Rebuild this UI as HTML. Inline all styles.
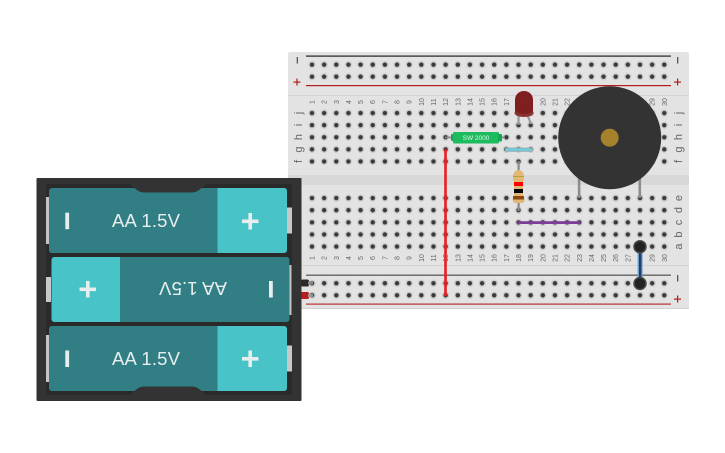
<!DOCTYPE html>
<html><head><meta charset="utf-8"><style>
html,body{margin:0;padding:0;background:#fff}
svg{display:block}
.n text{font:7px "Liberation Sans",sans-serif;fill:#666;text-anchor:middle}
.l text{font:11px "Liberation Sans",sans-serif;fill:#666;text-anchor:middle}
</style></head><body>
<svg width="725" height="453" viewBox="0 0 725 453" xmlns="http://www.w3.org/2000/svg">
<defs>
<pattern id="p" x="305.93" y="0" width="12.148" height="12.148" patternUnits="userSpaceOnUse">
<circle cx="6.07" cy="6.07" r="3.6" fill="#cbcbcb"/><circle cx="6.07" cy="6.07" r="2.2" fill="#3a3a3a"/>
</pattern>
</defs>
<!-- board -->
<rect x="288" y="52" width="401" height="257" rx="2" fill="#e3e3e3"/>
<rect x="288" y="95" width="401" height="1" fill="#d2d2d2"/>
<rect x="288" y="265" width="401" height="1" fill="#d2d2d2"/>
<rect x="288" y="175" width="401" height="10" fill="#d8d8d8"/>
<rect x="288" y="308" width="401" height="1" fill="#d2d2d2"/>
<rect x="306" y="55.5" width="365" height="1.2" fill="#222"/>
<rect x="306" y="85" width="365" height="1.2" fill="#b71c1c"/>
<rect x="306" y="274.5" width="365" height="1.4" fill="#666"/>
<rect x="306" y="303.5" width="365" height="1.2" fill="#b83232"/>
<!-- holes -->
<g transform="translate(0,58.6)"><rect x="305.93" width="364.44" height="12.148" fill="url(#p)"/></g>
<g transform="translate(0,70.6)"><rect x="305.93" width="364.44" height="12.148" fill="url(#p)"/></g>
<g transform="translate(0,107)"><rect x="305.93" width="364.44" height="12.148" fill="url(#p)"/></g>
<g transform="translate(0,119.1)"><rect x="305.93" width="364.44" height="12.148" fill="url(#p)"/></g>
<g transform="translate(0,131.2)"><rect x="305.93" width="364.44" height="12.148" fill="url(#p)"/></g>
<g transform="translate(0,143.3)"><rect x="305.93" width="364.44" height="12.148" fill="url(#p)"/></g>
<g transform="translate(0,155.4)"><rect x="305.93" width="364.44" height="12.148" fill="url(#p)"/></g>
<g transform="translate(0,192)"><rect x="305.93" width="364.44" height="12.148" fill="url(#p)"/></g>
<g transform="translate(0,204.1)"><rect x="305.93" width="364.44" height="12.148" fill="url(#p)"/></g>
<g transform="translate(0,216.3)"><rect x="305.93" width="364.44" height="12.148" fill="url(#p)"/></g>
<g transform="translate(0,228.4)"><rect x="305.93" width="364.44" height="12.148" fill="url(#p)"/></g>
<g transform="translate(0,240.5)"><rect x="305.93" width="364.44" height="12.148" fill="url(#p)"/></g>
<g transform="translate(0,277.2)"><rect x="305.93" width="364.44" height="12.148" fill="url(#p)"/></g>
<g transform="translate(0,289.2)"><rect x="305.93" width="364.44" height="12.148" fill="url(#p)"/></g>
<!-- top numbers -->
<g class="n">
<text transform="translate(314.5,102) rotate(-90)">1</text>
<text transform="translate(326.6,102) rotate(-90)">2</text>
<text transform="translate(338.8,102) rotate(-90)">3</text>
<text transform="translate(350.9,102) rotate(-90)">4</text>
<text transform="translate(363.1,102) rotate(-90)">5</text>
<text transform="translate(375.2,102) rotate(-90)">6</text>
<text transform="translate(387.4,102) rotate(-90)">7</text>
<text transform="translate(399.5,102) rotate(-90)">8</text>
<text transform="translate(411.7,102) rotate(-90)">9</text>
<text transform="translate(423.8,102) rotate(-90)">10</text>
<text transform="translate(436,102) rotate(-90)">11</text>
<text transform="translate(448.1,102) rotate(-90)">12</text>
<text transform="translate(460.3,102) rotate(-90)">13</text>
<text transform="translate(472.4,102) rotate(-90)">14</text>
<text transform="translate(484.6,102) rotate(-90)">15</text>
<text transform="translate(496.7,102) rotate(-90)">16</text>
<text transform="translate(508.9,102) rotate(-90)">17</text>
<text transform="translate(521,102) rotate(-90)">18</text>
<text transform="translate(533.2,102) rotate(-90)">19</text>
<text transform="translate(545.3,102) rotate(-90)">20</text>
<text transform="translate(557.5,102) rotate(-90)">21</text>
<text transform="translate(569.6,102) rotate(-90)">22</text>
<text transform="translate(581.8,102) rotate(-90)">23</text>
<text transform="translate(593.9,102) rotate(-90)">24</text>
<text transform="translate(606.1,102) rotate(-90)">25</text>
<text transform="translate(618.2,102) rotate(-90)">26</text>
<text transform="translate(630.4,102) rotate(-90)">27</text>
<text transform="translate(642.5,102) rotate(-90)">28</text>
<text transform="translate(654.7,102) rotate(-90)">29</text>
<text transform="translate(666.8,102) rotate(-90)">30</text>
<!-- bottom numbers -->
<text transform="translate(314.5,258) rotate(-90)">1</text>
<text transform="translate(326.6,258) rotate(-90)">2</text>
<text transform="translate(338.8,258) rotate(-90)">3</text>
<text transform="translate(350.9,258) rotate(-90)">4</text>
<text transform="translate(363.1,258) rotate(-90)">5</text>
<text transform="translate(375.2,258) rotate(-90)">6</text>
<text transform="translate(387.4,258) rotate(-90)">7</text>
<text transform="translate(399.5,258) rotate(-90)">8</text>
<text transform="translate(411.7,258) rotate(-90)">9</text>
<text transform="translate(423.8,258) rotate(-90)">10</text>
<text transform="translate(436,258) rotate(-90)">11</text>
<text transform="translate(448.1,258) rotate(-90)">12</text>
<text transform="translate(460.3,258) rotate(-90)">13</text>
<text transform="translate(472.4,258) rotate(-90)">14</text>
<text transform="translate(484.6,258) rotate(-90)">15</text>
<text transform="translate(496.7,258) rotate(-90)">16</text>
<text transform="translate(508.9,258) rotate(-90)">17</text>
<text transform="translate(521,258) rotate(-90)">18</text>
<text transform="translate(533.2,258) rotate(-90)">19</text>
<text transform="translate(545.3,258) rotate(-90)">20</text>
<text transform="translate(557.5,258) rotate(-90)">21</text>
<text transform="translate(569.6,258) rotate(-90)">22</text>
<text transform="translate(581.8,258) rotate(-90)">23</text>
<text transform="translate(593.9,258) rotate(-90)">24</text>
<text transform="translate(606.1,258) rotate(-90)">25</text>
<text transform="translate(618.2,258) rotate(-90)">26</text>
<text transform="translate(630.4,258) rotate(-90)">27</text>
<text transform="translate(642.5,258) rotate(-90)">28</text>
<text transform="translate(654.7,258) rotate(-90)">29</text>
<text transform="translate(666.8,258) rotate(-90)">30</text>
</g>
<g class="l">
<text transform="translate(302,113) rotate(-90)">j</text>
<text transform="translate(302,125) rotate(-90)">i</text>
<text transform="translate(302,137) rotate(-90)">h</text>
<text transform="translate(302,149.5) rotate(-90)">g</text>
<text transform="translate(302,161.5) rotate(-90)">f</text>
<text transform="translate(682,113) rotate(-90)">j</text>
<text transform="translate(682,125) rotate(-90)">i</text>
<text transform="translate(682,137) rotate(-90)">h</text>
<text transform="translate(682,149.5) rotate(-90)">g</text>
<text transform="translate(682,161.5) rotate(-90)">f</text>
<text transform="translate(682,198) rotate(-90)">e</text>
<text transform="translate(682,210) rotate(-90)">d</text>
<text transform="translate(682,222.5) rotate(-90)">c</text>
<text transform="translate(682,234.5) rotate(-90)">b</text>
<text transform="translate(682,246.5) rotate(-90)">a</text>
</g>
<!-- rail signs -->
<rect x="296.7" y="57" width="1.3" height="6.5" fill="#555"/>
<rect x="293.5" y="81.5" width="7" height="1.2" fill="#b71c1c"/><rect x="296.4" y="78.5" width="1.2" height="7" fill="#b71c1c"/>
<rect x="677" y="57" width="1.3" height="6.5" fill="#555"/>
<rect x="674" y="81.5" width="7" height="1.2" fill="#b71c1c"/><rect x="677" y="78.5" width="1.2" height="7" fill="#b71c1c"/>
<rect x="677" y="275" width="1.3" height="6.5" fill="#555"/>
<rect x="674" y="298.5" width="7" height="1.2" fill="#b71c1c"/><rect x="677" y="295.5" width="1.2" height="7" fill="#b71c1c"/>
<!-- red wire -->
<rect x="444.2" y="149" width="2.6" height="147" fill="#ed1c24"/>
<!-- green component -->
<rect x="445" y="136.5" width="8" height="1.8" fill="#888"/>
<rect x="499" y="136.5" width="6" height="1.8" fill="#888"/>
<rect x="451" y="134" width="3" height="7" rx="1" fill="#17a653"/>
<rect x="453" y="132" width="46" height="11.5" rx="1.5" fill="#1cbb5d"/>
<rect x="498" y="134" width="4" height="7.5" rx="1" fill="#17a653"/>
<text x="476" y="140" text-anchor="middle" font-family="Liberation Sans,sans-serif" font-size="6.5" fill="#dff5e6">SW 2000</text>
<!-- blue component -->
<rect x="505.3" y="148" width="27" height="3.4" rx="1" fill="#6fcbdc" stroke="#99a8ad" stroke-width=".7"/>
<!-- LED -->
<path d="M518.5 114 L518.5 125" stroke="#999" stroke-width="2.2"/>
<path d="M527 114 L531 124" stroke="#999" stroke-width="2.2"/>
<path d="M515 110 V99.5 A9 8.5 0 0 1 533 99.5 V110 Z" fill="#7f1f1f"/>
<ellipse cx="524" cy="113" rx="9.5" ry="4" fill="#8a3535"/>
<ellipse cx="524" cy="110.5" rx="9" ry="3.6" fill="#7f1f1f"/>
<!-- resistor -->
<rect x="517.5" y="161" width="2.2" height="50" fill="#8a8a8a"/>
<path d="M518.6 170 C522 170 524 173 524 177 C524 180 523 181 523 184 V194 C523 197 524.5 198 524.5 200 C524.5 202 523 203 521.5 203 H515.5 C514 203 512.7 202 512.7 200 C512.7 198 514 197 514 194 V184 C514 181 513 180 513 177 C513 173 515.3 170 518.6 170 Z" fill="#e2b877"/>
<rect x="513" y="176" width="11" height="1" fill="#b5a52c"/>
<rect x="514" y="182" width="9" height="4" fill="#f00"/>
<rect x="514" y="189" width="9" height="4" fill="#000"/>
<rect x="513" y="196" width="11" height="3.5" fill="#8c4a12"/>
<!-- purple -->
<rect x="517.5" y="221.2" width="63" height="2.8" fill="#7b3f98"/>
<!-- buzzer -->
<rect x="577.8" y="170" width="2.6" height="28" fill="#8c8c8c"/>
<rect x="638.5" y="170" width="2.6" height="28" fill="#8c8c8c"/>
<circle cx="609.7" cy="137.7" r="51.5" fill="#333"/>
<circle cx="609.7" cy="137.7" r="9" fill="#a5812b"/>
<!-- jumper -->
<rect x="637.6" y="247" width="5" height="37" fill="#6da0c8"/>
<rect x="639" y="247" width="2.4" height="37" fill="#1f3f66"/>
<circle cx="640" cy="246.7" r="6" fill="#222" stroke="#4a4a4a" stroke-width="1.5"/>
<circle cx="640" cy="283.5" r="6" fill="#222" stroke="#4a4a4a" stroke-width="1.5"/>
<!-- battery wires -->
<rect x="301" y="279.5" width="8" height="7" rx="1.5" fill="#2a2a2a"/>
<rect x="308" y="281.5" width="5" height="3" fill="#888"/>
<rect x="301" y="292" width="8" height="7" rx="1.5" fill="#b81c1c"/>
<rect x="308" y="294" width="5" height="3" fill="#999"/>
<!-- battery holder -->
<rect x="36.5" y="178" width="265" height="223" rx="1" fill="#333"/>
<rect x="46" y="184" width="246" height="211" fill="#2a2a2a"/>
<!-- tabs -->
<rect x="46" y="197" width="3" height="47" fill="#c4c4c4"/>
<rect x="287" y="207.5" width="5" height="26" fill="#c8c8c8"/>
<rect x="46" y="277" width="5" height="25" fill="#c8c8c8"/>
<rect x="289" y="265" width="2.5" height="50" fill="#c4c4c4"/>
<rect x="46" y="335" width="3" height="47" fill="#c4c4c4"/>
<rect x="287" y="345.5" width="5" height="26" fill="#c8c8c8"/>
<!-- top cell -->
<rect x="49" y="188" width="238" height="65" rx="3" fill="#317f85"/>
<path d="M217.5 188 H284 A3 3 0 0 1 287 191 V250 A3 3 0 0 1 284 253 H217.5 Z" fill="#48c3c7"/>
<path d="M130 184 H206 C201 188 198 192.5 192 192.5 H144 C138 192.5 135 188 130 184 Z" fill="#333"/>
<rect x="65.3" y="212.7" width="3.8" height="16.5" fill="#e8eeee"/>
<rect x="242" y="219.5" width="16.5" height="3.6" fill="#e8eeee"/><rect x="248.4" y="213" width="3.6" height="16.5" fill="#e8eeee"/>
<text x="146" y="227" text-anchor="middle" font-family="Liberation Sans,sans-serif" font-size="18.5" fill="#e8eeee" textLength="68">AA 1.5V</text>
<!-- mid cell -->
<rect x="51.5" y="257" width="238" height="65" rx="3" fill="#317f85"/>
<path d="M120 257 H54.5 A3 3 0 0 0 51.5 260 V319 A3 3 0 0 0 54.5 322 H120 Z" fill="#48c3c7"/>
<rect x="269" y="281" width="3.8" height="16.5" fill="#e8eeee"/>
<rect x="79.5" y="287.5" width="16.5" height="3.6" fill="#e8eeee"/><rect x="86" y="281" width="3.6" height="16.5" fill="#e8eeee"/>
<text transform="translate(193,282) rotate(180)" text-anchor="middle" font-family="Liberation Sans,sans-serif" font-size="18.5" fill="#e8eeee" textLength="68">AA 1.5V</text>
<!-- bottom cell -->
<rect x="49" y="326" width="238" height="65" rx="3" fill="#317f85"/>
<path d="M217.5 326 H284 A3 3 0 0 1 287 329 V388 A3 3 0 0 1 284 391 H217.5 Z" fill="#48c3c7"/>
<path d="M130 395 H206 C201 391 198 386.5 192 386.5 H144 C138 386.5 135 391 130 395 Z" fill="#333"/>
<rect x="65.3" y="350.5" width="3.8" height="16.5" fill="#e8eeee"/>
<rect x="242" y="357" width="16.5" height="3.6" fill="#e8eeee"/><rect x="248.4" y="350.5" width="3.6" height="16.5" fill="#e8eeee"/>
<text x="146" y="365" text-anchor="middle" font-family="Liberation Sans,sans-serif" font-size="18.5" fill="#e8eeee" textLength="68">AA 1.5V</text>
</svg>
</body></html>
